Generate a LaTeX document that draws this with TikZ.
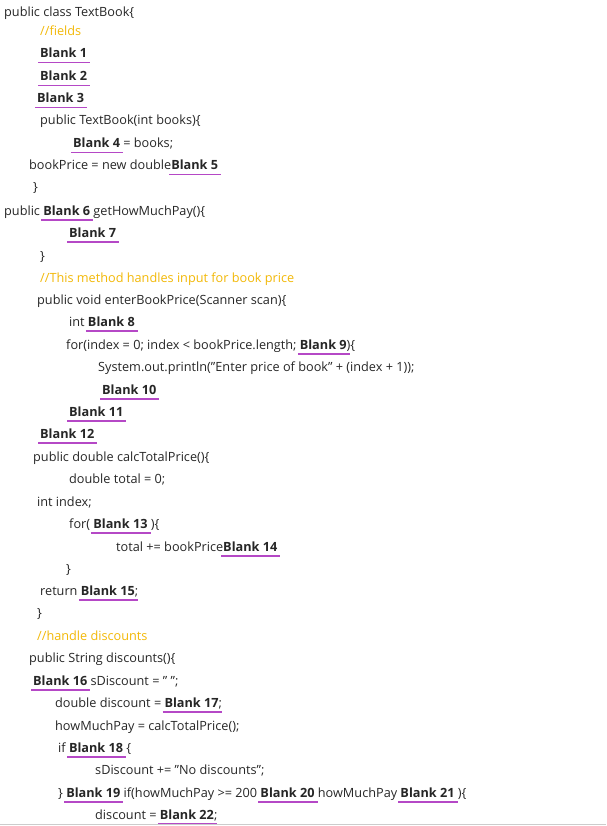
\documentclass[tikz,border=0pt]{standalone}
\usepackage{fontspec}
\setmainfont{Open Sans}
\definecolor{blankline}{HTML}{B548C6}
\definecolor{commentc}{HTML}{F2B807}
\newcommand{\blank}[1]{\setbox0\hbox{\textbf{Blank #1}}\leavevmode\rlap{\kern-2pt\textcolor{blankline}{\rule[-5.5pt]{\dimexpr\wd0+5pt}{1.4pt}}}\box0\relax}
\newcommand{\dq}{\symbol{34}}
\tikzset{
  code/.style={anchor=base west, inner sep=0pt, font=\fontsize{12.7}{15}\selectfont, text=black!85},
  comment/.style={code, text=commentc}
}
\begin{document}
\begin{tikzpicture}[x=1pt, y=-1pt]
\useasboundingbox (0,0) rectangle (606,826);
% listing, one node per line
\node[code] (l1) at (4,17) {public class TextBook\{};
\node[comment] (l2) at (40,36) {//fields};
\node[code] (l3) at (40,58) {\blank{1}};
\node[code] (l4) at (40,81) {\blank{2}};
\node[code] (l5) at (37,103) {\blank{3}};
\node[code] (l6) at (40,125) {public TextBook(int books)\{};
\node[code] (l7) at (73,148) {\blank{4} = books;};
\node[code] (l8) at (29,170) {bookPrice = new double\blank{5}};
\node[code] (l9) at (33,192) {\}};
\node[code] (l10) at (4,215) {public \blank{6} getHowMuchPay()\{};
\node[code] (l11) at (69,237) {\blank{7}};
\node[code] (l12) at (40,260) {\}};
\node[comment] (l13) at (40,282) {//This method handles input for book price};
\node[code] (l14) at (37,304) {public void enterBookPrice(Scanner scan)\{};
\node[code] (l15) at (69,326) {int \blank{8}};
\node[code] (l16) at (66,349) {for(index = 0; index < bookPrice.length; \blank{9})\{};
\node[code] (l17) at (98,371) {System.out.println(\dq Enter price of book\dq{} + (index + 1));};
\node[code] (l18) at (102,394) {\blank{10}};
\node[code] (l19) at (69,416) {\blank{11}};
\node[code] (l20) at (40,438) {\blank{12}};
\node[code] (l21) at (33,461) {public double calcTotalPrice()\{};
\node[code] (l22) at (69,483) {double total = 0;};
\node[code] (l23) at (37,506) {int index;};
\node[code] (l24) at (69,528) {for( \blank{13} )\{};
\node[code] (l25) at (116,551) {total += bookPrice\blank{14}};
\node[code] (l26) at (66,573) {\}};
\node[code] (l27) at (40,595) {return \blank{15};};
\node[code] (l28) at (37,617) {\}};
\node[comment] (l29) at (37,640) {//handle discounts};
\node[code] (l30) at (29,662) {public String discounts()\{};
\node[code] (l31) at (33,685) {\blank{16} sDiscount = \dq{} \dq;};
\node[code] (l32) at (55,707) {double discount = \blank{17};};
\node[code] (l33) at (55,730) {howMuchPay = calcTotalPrice();};
\node[code] (l34) at (58,752) {if \blank{18} \{};
\node[code] (l35) at (95,774) {sDiscount += \dq No discounts\dq;};
\node[code] (l36) at (58,797) {\} \blank{19} if(howMuchPay >= 200 \blank{20} howMuchPay \blank{21} )\{};
\node[code] (l37) at (95,819) {discount = \blank{22};};
\draw[black!20, line width=1pt] (0,824) -- (606,824);
\end{tikzpicture}
\end{document}
